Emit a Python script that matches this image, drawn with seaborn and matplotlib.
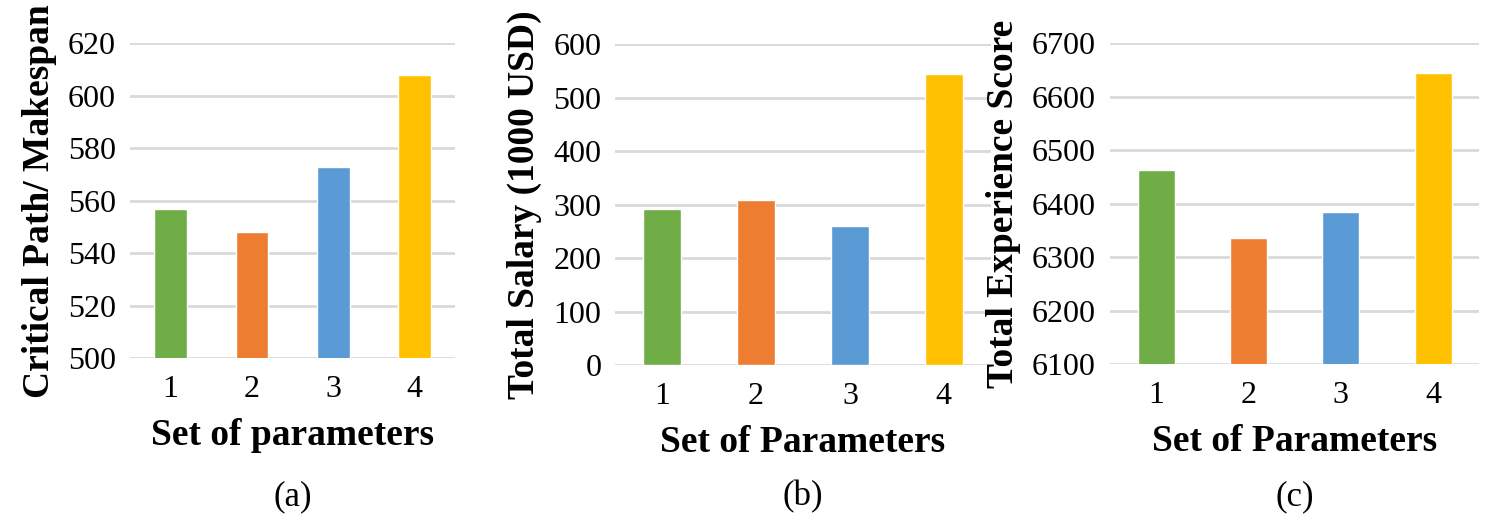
import matplotlib
matplotlib.use("Agg")
import matplotlib.pyplot as plt
import seaborn as sns
import pandas as pd

sets = ["1", "2", "3", "4"]
makespan = [557, 548, 573, 608]
salary = [292, 308, 260, 545]
experience = [6462, 6336, 6385, 6645]
colors = ["#70AD47", "#ED7D31", "#5B9BD5", "#FFC000"]

sns.set_theme(style="white")
plt.rcParams['font.family'] = ['Liberation Serif', 'DejaVu Serif']

fig = plt.figure(figsize=(15.08, 5.26), dpi=100)
panels = [
    (makespan, [0.086, 0.319, 0.216, 0.599], (500, 620), 20, "Critical Path/ Makespan", "Set of parameters", "(a)"),
    (salary, [0.408, 0.306, 0.249, 0.61], (0, 600), 100, "Total Salary (1000 USD)", "Set of Parameters", "(b)"),
    (experience, [0.736, 0.308, 0.245, 0.61], (6100, 6700), 100, "Total Experience Score", "Set of Parameters", "(c)"),
]
for vals, rect, ylim, step, ylab, xlab, tag in panels:
    ax = fig.add_axes(rect)
    df = pd.DataFrame({"set": sets, "v": vals})
    sns.barplot(data=df, x="set", y="v", hue="set", palette=colors, width=0.4,
                saturation=1, legend=False, ax=ax, zorder=3)
    ax.set_ylim(*ylim)
    ax.set_yticks(range(ylim[0], ylim[1] + 1, step))
    ax.yaxis.grid(True, color="#d9d9d9", linewidth=2, zorder=0)
    for s in ax.spines.values():
        s.set_visible(False)
    ax.tick_params(axis="both", labelsize=23, length=0, colors="black")
    ax.tick_params(axis="x", pad=12)
    ax.tick_params(axis="y", pad=10)
    ax.set_ylabel(ylab, fontsize=27, fontweight="bold", color="black", labelpad=8)
    ax.set_xlabel(xlab, fontsize=27, fontweight="bold", color="black", labelpad=10)
    pos = ax.get_position()
    fig.text(pos.x0 + pos.width / 2, 0.04, tag, ha="center", fontsize=25, color="black")

fig.savefig("out.png", dpi=100)
